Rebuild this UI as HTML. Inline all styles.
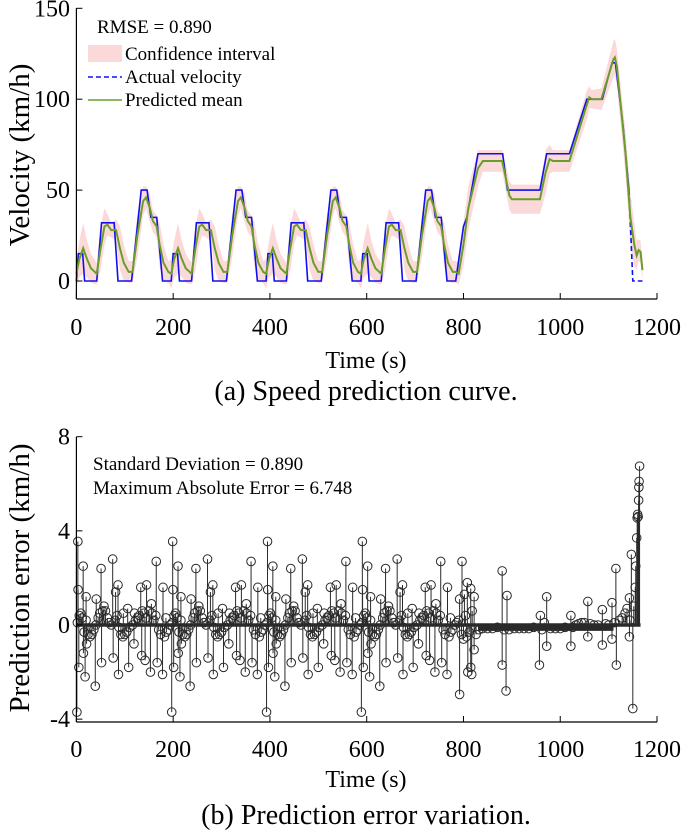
<!DOCTYPE html>
<html><head><meta charset="utf-8"><style>
body{margin:0;background:#fff;}
svg{display:block;font-family:"Liberation Serif",serif;}
</style></head><body>
<svg id="fig" width="685" height="832" viewBox="0 0 685 832"></svg>
<script>
// ---- data: top chart ----
const cycleStarts=[0,196,392,588];
const actualCycle=[[0,0],[4,15],[13,15],[17,0],[42,0],[52,32],[78,32],[86,0],[114,0],[134,50],[146,50],[154,35],[166,35],[178,0],[196,0]];
const actualEudc=[[784,0],[800,30],[807,35],[830,70],[881,70],[891,50],[958,50],[972,70],[1019,70],[1055,100],[1087,100],[1107,120],[1114,120],[1130,85],[1142,50]];
const actualTail=[[1142,50],[1150,0],[1170,0]];
const predCycle=[[0,4,8],[6,12,10],[14,18,14],[22,12,10],[30,7,8],[42,4,6],[50,18,12],[58,30,10],[64,31,6],[72,28,4],[82,28,6],[90,18,12],[98,10,10],[108,5,6],[116,5,6],[126,25,12],[138,44,8],[144,46,6],[152,40,8],[158,33,6],[166,30,6],[172,20,12],[180,10,10],[190,5,6]];
const predEudc=[[784,5,6],[790,4,6],[800,20,12],[810,40,12],[830,62,10],[840,66,6],[880,66,6],[895,47,8],[900,45,8],[958,45,8],[970,60,12],[978,67,8],[985,66,6],[1019,66,6],[1055,97,8],[1060,101,6],[1065,100,5],[1085,100,6],[1110,122,10],[1113,123,10],[1117,118,10],[1135,70,12],[1145,35,14],[1153,20,12],[1158,14,8],[1162,17,6],[1166,16,6],[1170,6,6]];
const vTicks=[0,50,100,150];
const tTicks=[0,200,400,600,800,1000,1200];
// ---- data: bottom chart ----
const errCycleBig=[[1,-3.7],[3,3.55],[3.5,1.5],[5,-1.8],[14,2.5],[14.5,-1.2],[18,-2.2],[20,1.2],[21,-0.8],[39,-2.6],[41,1.1],[51,2.4],[52,-1.6],[75,2.8],[76,-1.4],[81,1.4],[86,1.7],[87,-2.1],[97,0.5],[106,0.7],[108,-1.8],[119,-0.8],[120,0.5],[133,1.6],[135,-1.3],[142,-1.5],[145,1.7],[153,-2.0],[155,0.9],[165,2.7],[167,-1.6],[178,-2.1],[179,1.6],[185,0.3]];
const errCycleSmall=[[2,0.1],[6,0.4],[9,0.5],[12,0.3],[16,-0.3],[20,0.2],[24,-0.4],[28,-0.5],[32,-0.4],[36,-0.2],[40,0],[45,0.3],[48,0.5],[54,0.6],[57,0.8],[60,0.6],[64,0.3],[68,0.1],[72,0],[80,0.2],[84,0.4],[88,-0.1],[92,-0.4],[96,-0.5],[100,-0.4],[104,-0.3],[110,-0.1],[116,0],[122,0.2],[126,0.3],[130,0.4],[136,0.6],[140,0.5],[144,0.3],[150,0.6],[156,0.5],[160,0.2],[164,0.4],[170,-0.2],[174,-0.4],[182,-0.5],[186,-0.3],[190,-0.2],[194,0]];
const errEudc=[[792,-2.95],[792,1.1],[797,2.7],[802,1.3],[808,1.8],[809,-2.0],[815,1.55],[815,-1.8],[817,-2.1],[818,0.6],[822,1.2],[822,-1.05],[880,2.3],[880,-1.7],[888,-2.8],[890,1.25],[959,0.4],[957,-1.7],[972,1.2],[972,-0.9],[1022,0.4],[1022,-0.9],[1057,1.0],[1057,-0.5],[1087,0.65],[1087,-0.85],[1107,0.95],[1107,-0.6],[1115,2.4],[1116,-1.7],[1143,1.15],[1143,-0.5],[1147,3.0],[1150,-3.55],[1152,0.8],[1155,1.6],[1156,2.5],[1158,3.7],[1159,4.55],[1160,4.7],[1161,4.6],[1162,5.3],[1162.5,5.85],[1163,6.1],[1164,6.75]];
const errEudcSmall=[[786,0.1],[790,0.2],[796,-0.4],[800,-0.6],[804,0.4],[806,-0.5],[812,-0.3],[826,-0.4],[832,-0.2],[840,-0.15],[850,-0.15],[860,-0.15],[870,-0.1],[884,-0.2],[894,-0.2],[905,-0.15],[915,-0.15],[925,-0.15],[935,-0.15],[945,-0.1],[962,-0.2],[967,0.1],[980,-0.15],[990,-0.15],[1000,-0.15],[1010,-0.1],[1026,-0.1],[1032,0],[1038,0.05],[1044,0.1],[1050,0.1],[1062,0.05],[1070,0],[1078,0],[1094,0.05],[1100,0],[1112,0.1],[1122,0.2],[1128,0.3],[1134,0.5],[1138,0.7],[1144,0.2]];
const eTicks=[-4,0,4,8];

const NS="http://www.w3.org/2000/svg";
const svg=document.getElementById('fig');
function mk(tag,attrs,parent){const e=document.createElementNS(NS,tag);for(const k in attrs)e.setAttribute(k,attrs[k]);(parent||svg).appendChild(e);return e;}
const X0=76.4,X1=657;
function xs(t){return X0+t*(X1-X0)/1200;}
function ys(v){return 281-v*(281-8.3)/150;}
function ye(e){return 625-e*(625-436.7)/8;}

// ---------- TOP ----------
const gTop=mk('g',{});


let up=[],lo=[],pred=[],act=[];
cycleStarts.forEach(s=>{predCycle.forEach(p=>{up.push([s+p[0],p[1]+p[2]]);lo.push([s+p[0],p[1]-p[2]]);pred.push([s+p[0],p[1]]);});
 actualCycle.forEach(p=>act.push([s+p[0],p[1]]));});
predEudc.forEach(p=>{up.push([p[0],p[1]+p[2]]);lo.push([p[0],p[1]-p[2]]);pred.push([p[0],p[1]]);});
actualEudc.forEach(p=>act.push(p));
const clipId='topclip';
const cp=mk('clipPath',{id:clipId},gTop);mk('rect',{x:X0,y:8,width:X1-X0,height:291},cp);
let bandPts=up.map(p=>xs(p[0])+','+ys(p[1])).concat(lo.slice().reverse().map(p=>xs(p[0])+','+ys(p[1])));
const band=mk('polygon',{points:bandPts.join(' '),fill:'#fcd9d9',stroke:'none','clip-path':'url(#'+clipId+')'},gTop);


const al=mk('polyline',{points:act.map(p=>xs(p[0])+','+ys(p[1])).join(' '),fill:'none',stroke:'#1010ee','stroke-width':1.6},gTop);


const at=mk('polyline',{points:actualTail.map(p=>xs(p[0])+','+ys(p[1])).join(' '),fill:'none',stroke:'#1010ee','stroke-width':1.6,'stroke-dasharray':'5,3'},gTop);


const pl=mk('polyline',{points:pred.map(p=>xs(p[0])+','+ys(p[1])).join(' '),fill:'none',stroke:'#6a9e2a','stroke-width':2},gTop);


mk('line',{x1:X0,y1:8,x2:X0,y2:299,stroke:'#000','stroke-width':1.2},gTop);
mk('line',{x1:X0,y1:299,x2:X1,y2:299,stroke:'#000','stroke-width':1.2},gTop);
vTicks.forEach(v=>{mk('line',{x1:X0,y1:ys(v),x2:X0+6,y2:ys(v),stroke:'#000'},gTop);
 const t=mk('text',{x:70,y:ys(v)+8,'text-anchor':'end','font-size':24},gTop);t.textContent=v;
 
 });
tTicks.forEach(v=>{mk('line',{x1:xs(v),y1:299,x2:xs(v),y2:293,stroke:'#000'},gTop);
 const t=mk('text',{x:xs(v),y:335,'text-anchor':'middle','font-size':24},gTop);t.textContent=v;
 
 });
</script>
<script>
function txt(s,attrs,name){const t=mk('text',attrs);t.textContent=s;return t;}
txt('Velocity (km/h)',{x:0,y:0,transform:'translate(29,155) rotate(-90)','text-anchor':'middle','font-size':29},'y-axis-title');
txt('Time (s)',{x:366,y:368,'text-anchor':'middle','font-size':24},'x-axis-title');
txt('(a) Speed prediction curve.',{x:366,y:400,'text-anchor':'middle','font-size':28},'caption-a');
txt('RMSE = 0.890',{x:97,y:33,'font-size':19},'rmse-label');
const lg=mk('g',{});


mk('rect',{x:88,y:45,width:34,height:17,fill:'#fcd9d9'},lg);
mk('line',{x1:88,y1:77,x2:122,y2:77,stroke:'#1010ee','stroke-width':1.6,'stroke-dasharray':'5,3'},lg);
mk('line',{x1:88,y1:100,x2:122,y2:100,stroke:'#6a9e2a','stroke-width':1.6},lg);
txt('Confidence interval',{x:125,y:60,'font-size':19},'legend-entry-ci');
txt('Actual velocity',{x:125,y:83,'font-size':19},'legend-entry-actual');
txt('Predicted mean',{x:125,y:106,'font-size':19},'legend-entry-predicted');

const gB=mk('g',{});


let pts=[];
cycleStarts.forEach(s=>{errCycleSmall.forEach(p=>pts.push([s+p[0],p[1]]));errCycleBig.forEach(p=>pts.push([s+p[0],p[1]]));});
errEudcSmall.forEach(p=>pts.push(p));errEudc.forEach(p=>pts.push(p));
mk('line',{x1:xs(0),y1:ye(0),x2:xs(1166),y2:ye(0),stroke:'#2a2a2a','stroke-width':3.5},gB);
mk('line',{x1:xs(830),y1:ye(-0.12),x2:xs(1110),y2:ye(-0.12),stroke:'#2a2a2a','stroke-width':6},gB);
pts.forEach(p=>{
 const st=mk('line',{x1:xs(p[0]),y1:ye(0),x2:xs(p[0]),y2:ye(p[1]),stroke:'#2a2a2a','stroke-width':1},gB);
 
 
 const c=mk('circle',{cx:xs(p[0]),cy:ye(p[1]),r:4.3,fill:'none',stroke:'#2a2a2a','stroke-width':1},gB);
 
 
});
mk('line',{x1:X0,y1:436.7,x2:X0,y2:722,stroke:'#000','stroke-width':1.2},gB);
mk('line',{x1:X0,y1:722,x2:X1,y2:722,stroke:'#000','stroke-width':1.2},gB);
eTicks.forEach(v=>{mk('line',{x1:X0,y1:ye(v),x2:X0+6,y2:ye(v),stroke:'#000'},gB);
 const t=mk('text',{x:70,y:ye(v)+8,'text-anchor':'end','font-size':24},gB);t.textContent=v;
 
 });
tTicks.forEach(v=>{mk('line',{x1:xs(v),y1:722,x2:xs(v),y2:716,stroke:'#000'},gB);
 const t=mk('text',{x:xs(v),y:757,'text-anchor':'middle','font-size':24},gB);t.textContent=v;
 
 });
txt('Prediction error (km/h)',{x:0,y:0,transform:'translate(29,578) rotate(-90)','text-anchor':'middle','font-size':29},'y-axis-title-b');
txt('Time (s)',{x:366,y:787,'text-anchor':'middle','font-size':24},'x-axis-title-b');
txt('(b) Prediction error variation.',{x:366,y:824,'text-anchor':'middle','font-size':28},'caption-b');
txt('Standard Deviation = 0.890',{x:93,y:470,'font-size':19},'std-label');
txt('Maximum Absolute Error = 6.748',{x:93,y:494,'font-size':19},'max-error-label');
</script>
</body></html>
